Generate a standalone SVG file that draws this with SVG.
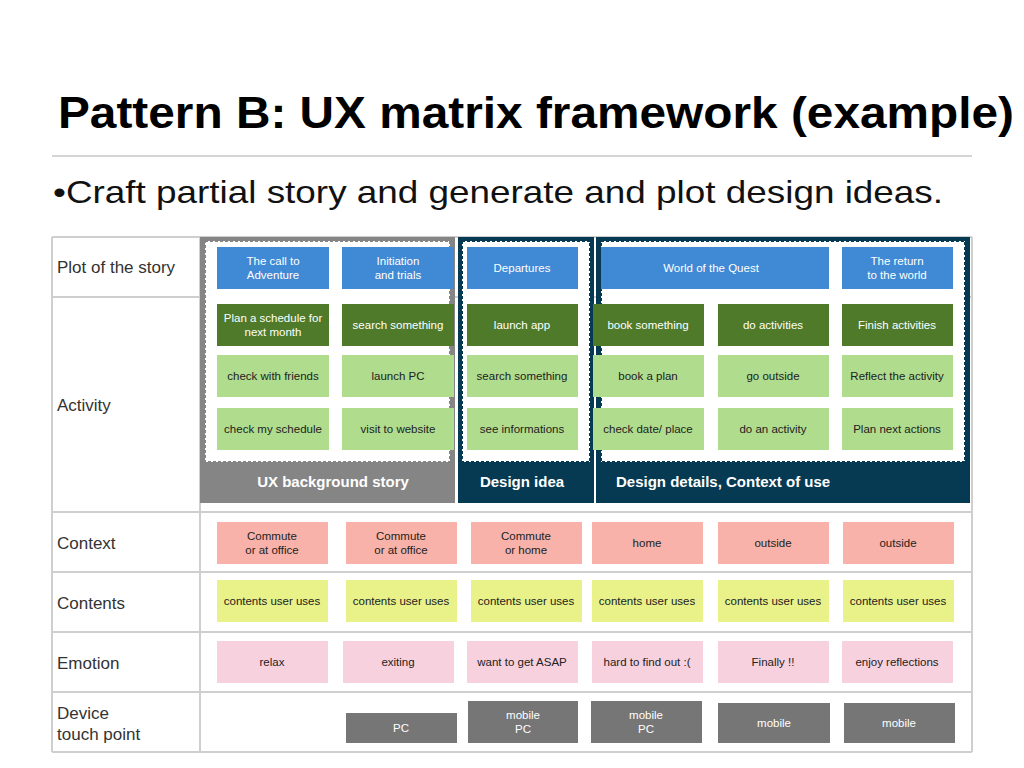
<svg xmlns="http://www.w3.org/2000/svg" width="1024" height="768" viewBox="0 0 1024 768">
<style>
text{font-family:"Liberation Sans",Arial,sans-serif}
.g{stroke:#cfcfcf;stroke-width:2;fill:none}
.rl{font-size:17px;fill:#333}
.t{font-size:11.5px;text-anchor:middle}
.w{fill:#fff}.k{fill:#222}
.blue{fill:#4089d4}.dg{fill:#4e7a2a}.lg{fill:#b0dc8e}.ctx{fill:#f8b2a9}.cnt{fill:#e9f189}.emo{fill:#f8d1de}.dev{fill:#767676}
.band{font-size:15px;font-weight:bold;fill:#fff}
</style>
<rect width="1024" height="768" fill="#fff"/>
<text x="58" y="128" font-size="45" font-weight="bold" fill="#000" textLength="956" lengthAdjust="spacingAndGlyphs">Pattern B: UX matrix framework (example)</text>
<line x1="52" y1="156" x2="972" y2="156" stroke="#aaa" stroke-width="1"/>
<text x="53" y="203" font-size="32" fill="#111" textLength="890" lengthAdjust="spacingAndGlyphs">•Craft partial story and generate and plot design ideas.</text>
<g id="grid">
<line class="g" x1="52" y1="237" x2="52" y2="752"/>
<line class="g" x1="200" y1="237" x2="200" y2="752"/>
<line class="g" x1="972" y1="237" x2="972" y2="752"/>
<line class="g" x1="52" y1="237" x2="972" y2="237"/>
<line class="g" x1="52" y1="297" x2="972" y2="297"/>
<line class="g" x1="52" y1="512" x2="972" y2="512"/>
<line class="g" x1="52" y1="572" x2="972" y2="572"/>
<line class="g" x1="52" y1="632" x2="972" y2="632"/>
<line class="g" x1="52" y1="692" x2="972" y2="692"/>
<line class="g" x1="52" y1="752" x2="972" y2="752"/>
<text class="rl" x="57" y="273">Plot of the story</text>
<text class="rl" x="57" y="411">Activity</text>
<text class="rl" x="57" y="549">Context</text>
<text class="rl" x="57" y="609">Contents</text>
<text class="rl" x="57" y="669">Emotion</text>
<text class="rl" x="57" y="719">Device</text>
<text class="rl" x="57" y="740">touch point</text>
</g>
<g id="frames">
<rect x="200" y="237" width="255" height="266" fill="#858585"/>
<rect x="205" y="241" width="245" height="221" fill="#fff" stroke="#858585" stroke-width="2" stroke-dasharray="3 2"/>
<text class="band" x="333" y="487" text-anchor="middle">UX background story</text>
<rect x="458" y="237" width="136" height="266" fill="#063a52"/>
<rect x="462" y="241" width="128" height="221" fill="#fff" stroke="#063a52" stroke-width="2" stroke-dasharray="3 2"/>
<text class="band" x="522" y="487" text-anchor="middle">Design idea</text>
<rect x="596" y="237" width="374" height="266" fill="#063a52"/>
<rect x="601" y="241" width="364" height="221" fill="#fff" stroke="#063a52" stroke-width="2" stroke-dasharray="3 2"/>
<text class="band" x="616" y="487">Design details, Context of use</text>
</g>
<g id="plot">
<rect class="blue" x="217" y="247" width="112" height="42"/><text class="t w" x="273" y="265">The call to</text><text class="t w" x="273" y="279">Adventure</text>
<rect class="blue" x="342" y="247" width="112" height="42"/><text class="t w" x="398" y="265">Initiation</text><text class="t w" x="398" y="279">and trials</text>
<rect class="blue" x="467" y="247" width="111" height="42"/><text class="t w" x="522" y="272">Departures</text>
<rect class="blue" x="601" y="247" width="228" height="42"/><text class="t w" x="711" y="272">World of the Quest</text>
<rect class="blue" x="842" y="247" width="111" height="42"/><text class="t w" x="897" y="265">The return</text><text class="t w" x="897" y="279">to the world</text>
</g>
<g id="activity">
<rect class="dg" x="217" y="304" width="112" height="42"/><text class="t w" x="273" y="322">Plan a schedule for</text><text class="t w" x="273" y="336">next month</text>
<rect class="dg" x="342" y="304" width="112" height="42"/><text class="t w" x="398" y="329">search something</text>
<rect class="dg" x="467" y="304" width="111" height="42"/><text class="t w" x="522" y="329">launch app</text>
<rect class="dg" x="593" y="304" width="111" height="42"/><text class="t w" x="648" y="329">book something</text>
<rect class="dg" x="718" y="304" width="111" height="42"/><text class="t w" x="773" y="329">do activities</text>
<rect class="dg" x="842" y="304" width="111" height="42"/><text class="t w" x="897" y="329">Finish activities</text>
<rect class="lg" x="217" y="355" width="112" height="42"/><text class="t k" x="273" y="380">check with friends</text>
<rect class="lg" x="342" y="355" width="112" height="42"/><text class="t k" x="398" y="380">launch PC</text>
<rect class="lg" x="467" y="355" width="111" height="42"/><text class="t k" x="522" y="380">search something</text>
<rect class="lg" x="593" y="355" width="111" height="42"/><text class="t k" x="648" y="380">book a plan</text>
<rect class="lg" x="718" y="355" width="111" height="42"/><text class="t k" x="773" y="380">go outside</text>
<rect class="lg" x="842" y="355" width="111" height="42"/><text class="t k" x="897" y="380">Reflect the activity</text>
<rect class="lg" x="217" y="408" width="112" height="42"/><text class="t k" x="273" y="433">check my schedule</text>
<rect class="lg" x="342" y="408" width="112" height="42"/><text class="t k" x="398" y="433">visit to website</text>
<rect class="lg" x="467" y="408" width="111" height="42"/><text class="t k" x="522" y="433">see informations</text>
<rect class="lg" x="593" y="408" width="111" height="42"/><text class="t k" x="648" y="433">check date/ place</text>
<rect class="lg" x="718" y="408" width="111" height="42"/><text class="t k" x="773" y="433">do an activity</text>
<rect class="lg" x="842" y="408" width="111" height="42"/><text class="t k" x="897" y="433">Plan next actions</text>
</g>
<g id="context">
<rect class="ctx" x="217" y="522" width="111" height="42"/><text class="t k" x="272" y="540">Commute</text><text class="t k" x="272" y="554">or at office</text>
<rect class="ctx" x="346" y="522" width="111" height="42"/><text class="t k" x="401" y="540">Commute</text><text class="t k" x="401" y="554">or at office</text>
<rect class="ctx" x="471" y="522" width="111" height="42"/><text class="t k" x="526" y="540">Commute</text><text class="t k" x="526" y="554">or home</text>
<rect class="ctx" x="592" y="522" width="111" height="42"/><text class="t k" x="647" y="547">home</text>
<rect class="ctx" x="718" y="522" width="111" height="42"/><text class="t k" x="773" y="547">outside</text>
<rect class="ctx" x="843" y="522" width="111" height="42"/><text class="t k" x="898" y="547">outside</text>
</g>
<g id="contents">
<rect class="cnt" x="217" y="580" width="111" height="42"/><text class="t k" x="272" y="605">contents user uses</text>
<rect class="cnt" x="346" y="580" width="111" height="42"/><text class="t k" x="401" y="605">contents user uses</text>
<rect class="cnt" x="471" y="580" width="111" height="42"/><text class="t k" x="526" y="605">contents user uses</text>
<rect class="cnt" x="592" y="580" width="111" height="42"/><text class="t k" x="647" y="605">contents user uses</text>
<rect class="cnt" x="718" y="580" width="111" height="42"/><text class="t k" x="773" y="605">contents user uses</text>
<rect class="cnt" x="843" y="580" width="111" height="42"/><text class="t k" x="898" y="605">contents user uses</text>
</g>
<g id="emotion">
<rect class="emo" x="217" y="641" width="111" height="42"/><text class="t k" x="272" y="666">relax</text>
<rect class="emo" x="343" y="641" width="111" height="42"/><text class="t k" x="398" y="666">exiting</text>
<rect class="emo" x="467" y="641" width="111" height="42"/><text class="t k" x="522" y="666">want to get ASAP</text>
<rect class="emo" x="592" y="641" width="111" height="42"/><text class="t k" x="647" y="666">hard to find out :(</text>
<rect class="emo" x="718" y="641" width="111" height="42"/><text class="t k" x="773" y="666">Finally !!</text>
<rect class="emo" x="842" y="641" width="111" height="42"/><text class="t k" x="897" y="666">enjoy reflections</text>
</g>
<g id="device">
<rect class="dev" x="346" y="713" width="111" height="30"/><text class="t w" x="401" y="732">PC</text>
<rect class="dev" x="468" y="701" width="110" height="42"/><text class="t w" x="523" y="719">mobile</text><text class="t w" x="523" y="733">PC</text>
<rect class="dev" x="591" y="701" width="111" height="42"/><text class="t w" x="646" y="719">mobile</text><text class="t w" x="646" y="733">PC</text>
<rect class="dev" x="718" y="703" width="112" height="40"/><text class="t w" x="774" y="727">mobile</text>
<rect class="dev" x="844" y="703" width="111" height="40"/><text class="t w" x="899" y="727">mobile</text>
</g>
</svg>
